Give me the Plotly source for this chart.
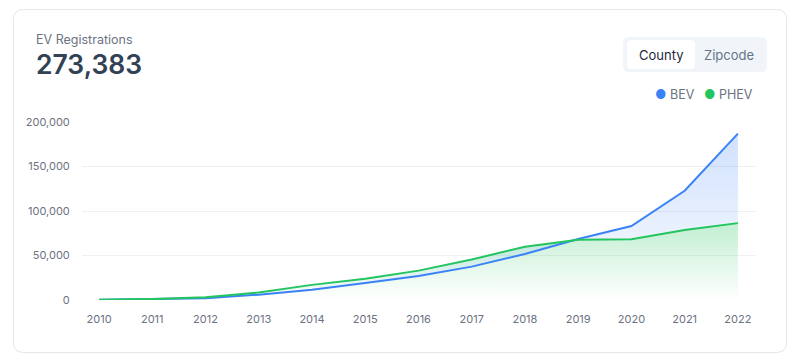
import plotly.graph_objects as go

years = [2010, 2011, 2012, 2013, 2014, 2015, 2016, 2017, 2018, 2019, 2020, 2021, 2022]
bev = [200, 800, 2000, 6000, 11500, 19000, 27000, 37500, 51700, 68500, 83100, 122800, 187000]
phev = [300, 1000, 3000, 8500, 17000, 24000, 33000, 45500, 59900, 67800, 68200, 78700, 86383]
y_ticks = [0, 50000, 100000, 150000, 200000]

title_text = "EV Registrations"
total = bev[-1] + phev[-1]

BLUE = "#3b82f6"
GREEN = "#22c55e"

# page body has an 8px margin; target coordinates below are in window pixels
OFF = 8
W, H = 800 - 2 * OFF, 361 - 2 * OFF
PL, PR, PT, PB = 82, 756, 122, 300  # plot area in window pixels
L, T = PL - OFF, PT - OFF
R = W - (PR - OFF)
B = H - (PB - OFF)
pw, ph = W - L - R, H - T - B


def px(x):
    return (x - OFF - L) / pw


def py(y):
    return (H - B - (y - OFF)) / ph


def rrect(x0, y0, x1, y1, r):
    pts = [
        f"M {px(x0 + r)} {py(y0)}",
        f"L {px(x1 - r)} {py(y0)}",
        f"Q {px(x1)} {py(y0)} {px(x1)} {py(y0 + r)}",
        f"L {px(x1)} {py(y1 - r)}",
        f"Q {px(x1)} {py(y1)} {px(x1 - r)} {py(y1)}",
        f"L {px(x0 + r)} {py(y1)}",
        f"Q {px(x0)} {py(y1)} {px(x0)} {py(y1 - r)}",
        f"L {px(x0)} {py(y0 + r)}",
        f"Q {px(x0)} {py(y0)} {px(x0 + r)} {py(y0)}",
        "Z",
    ]
    return " ".join(pts)


fig = go.Figure()

# PHEV fill
fig.add_trace(go.Scatter(
    x=years, y=phev, mode="lines", line=dict(width=0, color=GREEN),
    fill="tozeroy",
    fillgradient=dict(type="vertical",
                      colorscale=[[0, "rgba(34,197,94,0)"], [1, "rgba(34,197,94,0.28)"]],
                      start=0, stop=max(phev)),
    hoverinfo="skip", showlegend=False, cliponaxis=False,
))
# BEV fill + line
fig.add_trace(go.Scatter(
    x=years, y=bev, mode="lines", name="BEV", line=dict(width=2, color=BLUE),
    fill="tonexty",
    fillgradient=dict(type="vertical",
                      colorscale=[[0, "rgba(59,130,246,0.02)"], [1, "rgba(59,130,246,0.24)"]],
                      start=0, stop=max(bev)),
    showlegend=False, cliponaxis=False,
))
# PHEV line on top
fig.add_trace(go.Scatter(
    x=years, y=phev, mode="lines", name="PHEV", line=dict(width=2, color=GREEN),
    showlegend=False, cliponaxis=False,
))

shapes = [
    dict(type="path", xref="paper", yref="paper", path=rrect(13.5, 9.5, 786.5, 352.5, 10),
         line=dict(color="#e5e7eb", width=1), fillcolor="white", layer="below"),
    dict(type="path", xref="paper", yref="paper", path=rrect(623, 37, 767, 72, 6),
         line=dict(width=0), fillcolor="#f1f5f9", layer="below"),
    dict(type="path", xref="paper", yref="paper", path=rrect(627, 40, 695, 69, 5),
         line=dict(width=0), fillcolor="white", layer="below"),
]

annotations = [
    dict(x=px(34), y=py(39), xref="paper", yref="paper", text=title_text, showarrow=False,
         xanchor="left", yanchor="middle", font=dict(size=12.5, color="#6b7280")),
    dict(x=px(34), y=py(64), xref="paper", yref="paper", text=f"{total:,}", showarrow=False,
         xanchor="left", yanchor="middle",
         font=dict(size=26.5, color="#334155", family="Inter", weight=600)),
    dict(x=px(661), y=py(55), xref="paper", yref="paper", text="County", showarrow=False,
         xanchor="center", yanchor="middle", font=dict(size=13, color="#1e293b")),
    dict(x=px(729), y=py(55), xref="paper", yref="paper", text="Zipcode", showarrow=False,
         xanchor="center", yanchor="middle", font=dict(size=13, color="#64748b")),
    dict(x=px(653), y=py(94), xref="paper", yref="paper",
         text=f"<span style='color:{BLUE}'>●</span> BEV", showarrow=False,
         xanchor="left", yanchor="middle", font=dict(size=12.5, color="#6b7280")),
    dict(x=px(702), y=py(94), xref="paper", yref="paper",
         text=f"<span style='color:{GREEN}'>●</span> PHEV", showarrow=False,
         xanchor="left", yanchor="middle", font=dict(size=12.5, color="#6b7280")),
]

fig.update_layout(
    width=W, height=H,
    margin=dict(l=L, r=R, t=T, b=B, pad=0),
    paper_bgcolor="white", plot_bgcolor="rgba(0,0,0,0)",
    font=dict(family="Inter, Roboto, sans-serif", size=11, color="#6b7280"),
    shapes=shapes, annotations=annotations,
    xaxis=dict(range=[2009.68, 2022.34], tickvals=years, ticktext=[str(y) for y in years],
               showgrid=False, zeroline=False, showline=False,
               ticks="outside", ticklen=9, tickcolor="rgba(0,0,0,0)",
               tickfont=dict(size=11, color="#6b7280")),
    yaxis=dict(range=[0, 200000], tickvals=y_ticks, tickformat=",", showgrid=True,
               gridcolor="#f0f0f0", gridwidth=1, zeroline=False, showline=False,
               ticks="outside", ticklen=9, tickcolor="rgba(0,0,0,0)",
               tickfont=dict(size=11, color="#6b7280")),
    hovermode="x unified",
)

fig.write_html("out.html")
